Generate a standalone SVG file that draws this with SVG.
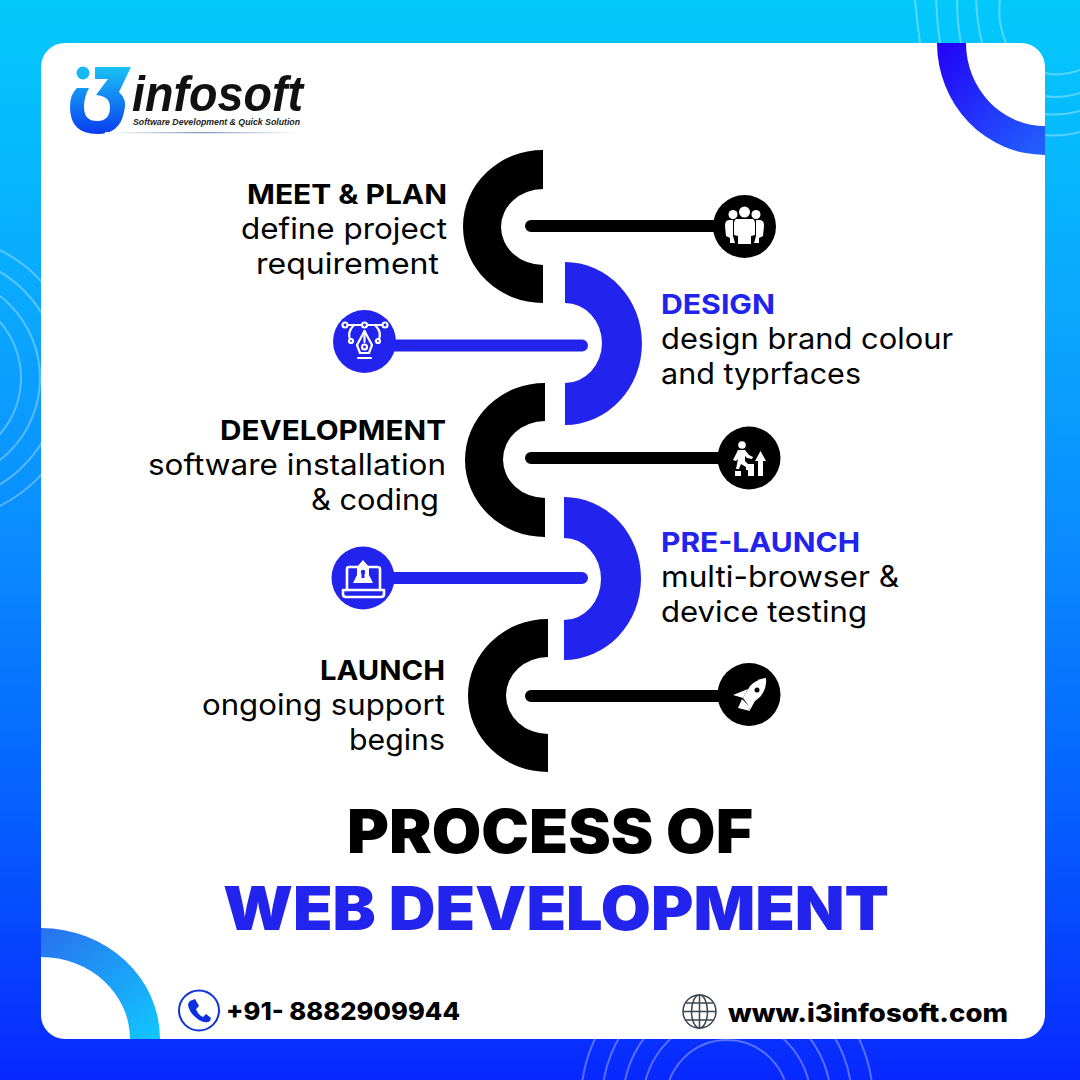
<svg xmlns="http://www.w3.org/2000/svg" width="1080" height="1080" viewBox="0 0 1080 1080">
<style>
.h{font-family:Inter,"Liberation Sans",sans-serif;font-weight:700;font-size:27.5px}
.b{font-family:Inter,"Liberation Sans",sans-serif;font-weight:400;font-size:29.5px}
.k{fill:#000}.u{fill:#2323ee}
.rip{fill:none;stroke:#fff;stroke-opacity:.32;stroke-width:2}
.ic{fill:#fff}.il{fill:none;stroke:#fff;stroke-width:2.2;stroke-linejoin:round;stroke-linecap:round}
.t{font-family:Inter,"Liberation Sans",sans-serif;font-weight:900;font-size:60px}
.f{font-family:Inter,"Liberation Sans",sans-serif;font-weight:800;font-size:24px;fill:#000}
.cl{stroke-width:12;stroke-linecap:round}
</style>
<defs>
<linearGradient id="bg" x1="0" y1="0" x2="0" y2="1"><stop offset="0" stop-color="#03c9fb"/><stop offset=".3" stop-color="#0aa6fe"/><stop offset=".5" stop-color="#0a8cff"/><stop offset=".75" stop-color="#0560ff"/><stop offset="1" stop-color="#0828ff"/></linearGradient>
<linearGradient id="tr" x1="0" y1="0" x2="1" y2="1"><stop offset="0" stop-color="#2300f5"/><stop offset="1" stop-color="#2264ff"/></linearGradient>
<linearGradient id="bl" x1="0" y1="0" x2="1" y2="1"><stop offset="0" stop-color="#2a70ee"/><stop offset="1" stop-color="#10c8ff"/></linearGradient>
<linearGradient id="lg" x1="0" y1="0" x2="0" y2="1"><stop offset="0" stop-color="#19c3f5"/><stop offset="1" stop-color="#0a3cf0"/></linearGradient>
<linearGradient id="ul" x1="0" y1="0" x2="1" y2="0"><stop offset="0" stop-color="#fff"/><stop offset=".5" stop-color="#8898c0"/><stop offset="1" stop-color="#fff"/></linearGradient>
</defs>
<rect width="1080" height="1080" fill="url(#bg)"/>
<g id="ripples">
<circle class="rip" cx="-64" cy="378" r="85"/><circle class="rip" cx="-64" cy="378" r="104"/><circle class="rip" cx="-64" cy="378" r="124"/><circle class="rip" cx="-64" cy="378" r="143"/>
<circle class="rip" cx="727" cy="1101" r="61"/><circle class="rip" cx="727" cy="1101" r="84"/><circle class="rip" cx="727" cy="1101" r="104"/><circle class="rip" cx="727" cy="1101" r="125"/><circle class="rip" cx="727" cy="1101" r="146"/>
<path class="rip" d="M915 0Q917 22 920 43M936 0Q937 22 940 43M957 0Q957 22 961 43M976 0Q977 22 982 43M1000 0Q997 22 1006 43M1045 73Q1060 77 1080 70M1045 96Q1060 99 1080 93M1045 114Q1060 116 1080 111M1045 135Q1060 137 1080 132"/>
</g>
<rect id="card" x="41" y="43" width="1004" height="996" rx="24" fill="#fff"/>
<path id="corner-tr" d="M937 43A108 112 0 0 0 1045 155L1045 126A79 83 0 0 1 966 43Z" fill="url(#tr)"/>
<path id="corner-bl" d="M41 928A119 111 0 0 1 160 1039L130 1039A89 82 0 0 0 41 957Z" fill="url(#bl)"/>
<g id="logo">
<circle cx="83" cy="73" r="6.500" fill="#19b8f5"/>
<path d="M95 67L131 67L119 92Q128 100 124 112Q120 134 97 134Q70 134 70 107Q70 94 77 88L89 88Q84 97 84 107Q84 121 97 121Q110 121 110 107Q110 96 96 95L108 79L95 79Z" fill="url(#lg)"/>
<text x="132" y="111" textLength="171" lengthAdjust="spacingAndGlyphs" font-family="Liberation Sans,sans-serif" font-weight="700" font-style="italic" font-size="50" fill="#111">infosoft</text>
<text x="133" y="125" textLength="167" lengthAdjust="spacingAndGlyphs" font-family="Liberation Sans,sans-serif" font-weight="700" font-style="italic" font-size="8.600" fill="#222">Software Development &amp; Quick Solution</text>
<rect x="105" y="132" width="195" height="1.300" fill="url(#ul)"/>
</g>
<g id="connectors">
<path class="cl" stroke="#000" d="M531 226H725M531 458H730M531 696H730"/>
<path class="cl" stroke="#2323ee" d="M582 345.500H380M582 578H380"/>
</g>
<g id="meet-plan">
<path class="k" d="M543 150A80 76.500 0 0 0 543 303L543 265A42 38 0 0 1 543 189Z"/>
<circle class="k" cx="744.500" cy="226.500" r="31.500"/>
<g class="ic"><circle cx="744.500" cy="212" r="5.500"/><circle cx="733" cy="214.500" r="4.500"/><circle cx="756" cy="214.500" r="4.500"/>
<path d="M736 219H753Q755 220 755 224V235L751 236V244H738V236L734 235V224Q734 220 736 219Z"/><path d="M725 226Q725 220 729 220H733V236L735 243H730V238L726 236Z"/><path d="M764 226Q764 220 760 220H756V236L754 243H759V238L763 236Z"/></g>
<text class="h k" x="247" y="204" textLength="200" lengthAdjust="spacingAndGlyphs">MEET &amp; PLAN</text>
<text class="b k" x="241" y="239" textLength="206" lengthAdjust="spacingAndGlyphs">define project</text>
<text class="b k" x="256" y="274" textLength="183" lengthAdjust="spacingAndGlyphs">requirement</text>
</g>
<g id="design">
<path class="u" d="M565 262A77 81.500 0 0 1 565 425L565 383A37 40 0 0 0 565 303Z"/>
<circle class="u" cx="364.500" cy="341.500" r="31.500"/>
<g class="il"><path d="M345 325H385M354 325Q346 333 351 341M375 325Q383 333 378 341M364.500 331L372 345L369 353H360L357 345Z"/><path d="M358 358H371M364.500 342V331"/><circle cx="345" cy="325" r="2.500" fill="#2323ee"/><circle cx="364.500" cy="325" r="2.500" fill="#2323ee"/><circle cx="385" cy="325" r="2.500" fill="#2323ee"/><circle cx="351" cy="341" r="2" fill="#2323ee"/><circle cx="378" cy="341" r="2" fill="#2323ee"/><circle cx="364.500" cy="347" r="2.500" fill="#2323ee"/></g>
<text class="h u" x="661" y="314" textLength="114" lengthAdjust="spacingAndGlyphs">DESIGN</text>
<text class="b k" x="661" y="349" textLength="292" lengthAdjust="spacingAndGlyphs">design brand colour</text>
<text class="b k" x="661" y="384" textLength="200" lengthAdjust="spacingAndGlyphs">and typrfaces</text>
</g>
<g id="development">
<path class="k" d="M545 383A80 77 0 0 0 545 537L545 498A42 38.500 0 0 1 545 421Z"/>
<circle class="k" cx="749" cy="458" r="31.500"/>
<g class="ic"><circle cx="742" cy="445" r="3.800"/><path d="M738 450H745L749 455L753 457L752 459L747 458L745 456V461L749 465V470H746V467L741 464L739 469H736L738 459L736 461L733 460Z"/><rect x="735" y="471" width="6" height="5"/><rect x="748" y="464" width="6" height="12"/><rect x="758" y="461" width="5" height="15"/><path d="M760.500 451L766 461H755Z"/></g>
<text class="h k" x="220" y="440" textLength="226" lengthAdjust="spacingAndGlyphs">DEVELOPMENT</text>
<text class="b k" x="148" y="475" textLength="298" lengthAdjust="spacingAndGlyphs">software installation</text>
<text class="b k" x="311" y="510" textLength="128" lengthAdjust="spacingAndGlyphs">&amp; coding</text>
</g>
<g id="pre-launch">
<path class="u" d="M564 497A77 81.500 0 0 1 564 660L564 620A37 41 0 0 0 564 538Z"/>
<circle class="u" cx="363" cy="578" r="31.500"/>
<g class="il" style="stroke-width:2.600"><path d="M347 590V569Q347 567 349 567H377Q380 567 380 569V590"/><path d="M343 590H384V594Q384 597 381 597H346Q343 597 343 594Z"/></g>
<path class="ic" d="M363 560L369 567V575L373 583H353L357 575V567Z"/>
<circle cx="363" cy="572" r="2.200" fill="#2323ee"/><path d="M361.500 573H364.500V578H361.500Z" fill="#2323ee"/>
<text class="h u" x="661" y="552" textLength="199" lengthAdjust="spacingAndGlyphs">PRE-LAUNCH</text>
<text class="b k" x="661" y="587" textLength="238" lengthAdjust="spacingAndGlyphs">multi-browser &amp;</text>
<text class="b k" x="661" y="622" textLength="206" lengthAdjust="spacingAndGlyphs">device testing</text>
</g>
<g id="launch">
<path class="k" d="M548 619A80 76.500 0 0 0 548 772L548 734A42 38.500 0 0 1 548 657Z"/>
<circle class="k" cx="749" cy="694.500" r="31.500"/>
<g class="ic"><path d="M766 678Q767 689 760 697L749 706L743 698L750 686Q757 679 766 678Z"/><path d="M748 689L733 695L743 698Z"/><path d="M742 699L738 708L750 711L749 706Z"/><path d="M755 701L750 710L748 704Z"/></g>
<circle cx="757" cy="690" r="2.500" fill="#000"/>
<text class="h k" x="320" y="680" textLength="125" lengthAdjust="spacingAndGlyphs">LAUNCH</text>
<text class="b k" x="202" y="715" textLength="243" lengthAdjust="spacingAndGlyphs">ongoing support</text>
<text class="b k" x="349" y="750" textLength="96" lengthAdjust="spacingAndGlyphs">begins</text>
</g>
<g id="title">
<text class="t" x="347" y="853" textLength="406" lengthAdjust="spacingAndGlyphs" fill="#000">PROCESS OF</text>
<text class="t" x="223" y="930" textLength="666" lengthAdjust="spacingAndGlyphs" fill="#2323ee">WEB DEVELOPMENT</text>
</g>
<g id="phone">
<circle cx="199" cy="1010.500" r="20" fill="#fff" stroke="#1030d8" stroke-width="2"/>
<path d="M190 1001L195 999L199 1006L196 1009Q198 1015 203 1017L206 1014L211 1018L210 1021Q206 1024 199 1020Q189 1013 188 1005Q188 1003 190 1001Z" fill="#0a30e0"/>
<text class="f" x="226" y="1020" textLength="234" lengthAdjust="spacingAndGlyphs">+91- 8882909944</text>
</g>
<g id="website">
<g fill="none" stroke="#3a4650" stroke-width="1.500"><circle cx="699.500" cy="1011.500" r="16.500"/><ellipse cx="699.500" cy="1011.500" rx="8" ry="16.500"/><path d="M699.500 995V1028M683 1011.500H716M686 1003H713M686 1020H713"/></g>
<text class="f" x="728" y="1022" textLength="280" lengthAdjust="spacingAndGlyphs" style="font-size:25px">www.i3infosoft.com</text>
</g>
</svg>
